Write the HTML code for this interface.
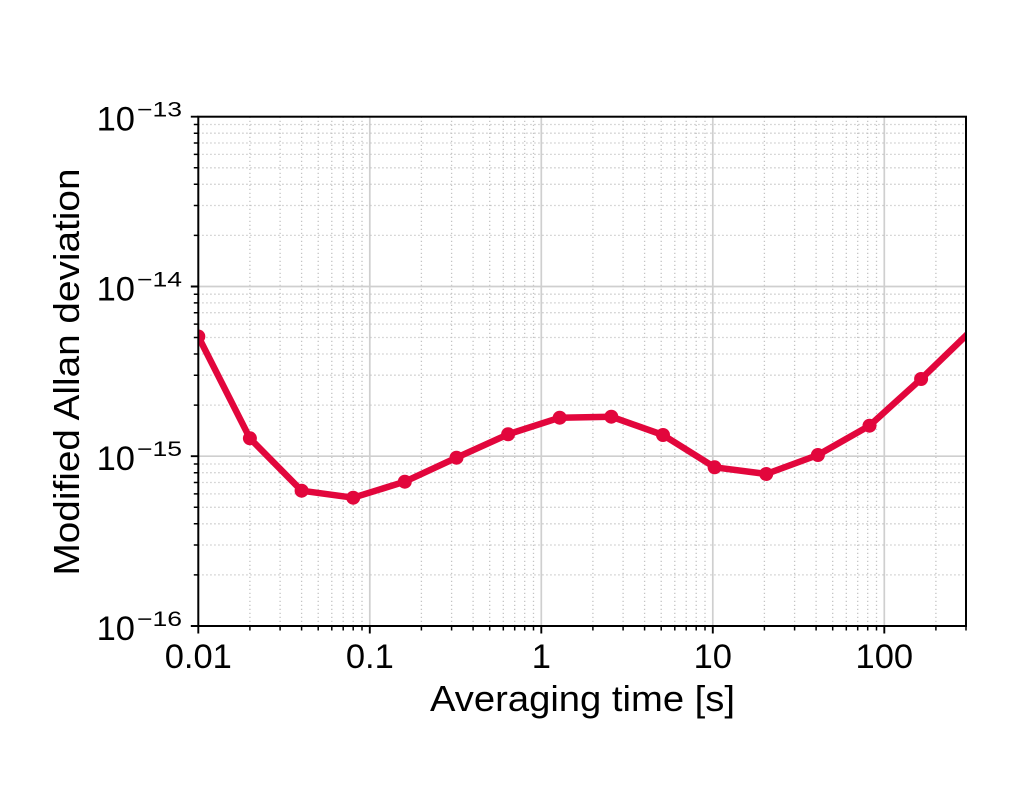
<!DOCTYPE html>
<html>
<head>
<meta charset="utf-8">
<style>
  html, body { margin: 0; padding: 0; background: #ffffff; }
  body { width: 1024px; height: 790px; overflow: hidden; }
  svg { display: block; }
  text { font-family: "Liberation Sans", "DejaVu Sans", sans-serif; fill: #000; }
</style>
</head>
<body>
<svg width="1024" height="790" viewBox="0 0 1024 790" xmlns="http://www.w3.org/2000/svg">
  <rect x="0" y="0" width="1024" height="790" fill="#ffffff"/>
  <defs>
    <clipPath id="plot">
      <rect x="198.3" y="116.7" width="767.7" height="509.3"/>
    </clipPath>
  </defs>

  <!-- minor grid (dotted) -->
  <g stroke="#c4c4c4" stroke-width="1.3" stroke-dasharray="1.3 2.7" fill="none">
    <path d="
      M249.9,116.7V626 M280.1,116.7V626 M301.6,116.7V626 M318.2,116.7V626 M331.8,116.7V626 M343.2,116.7V626 M353.2,116.7V626 M362.0,116.7V626
      M421.4,116.7V626 M451.6,116.7V626 M473.1,116.7V626 M489.7,116.7V626 M503.3,116.7V626 M514.7,116.7V626 M524.7,116.7V626 M533.5,116.7V626
      M592.9,116.7V626 M623.1,116.7V626 M644.6,116.7V626 M661.2,116.7V626 M674.8,116.7V626 M686.2,116.7V626 M696.2,116.7V626 M705.0,116.7V626
      M764.4,116.7V626 M794.6,116.7V626 M816.1,116.7V626 M832.7,116.7V626 M846.3,116.7V626 M857.7,116.7V626 M867.7,116.7V626 M876.5,116.7V626
      M935.9,116.7V626
      M198.3,574.9H966 M198.3,545.0H966 M198.3,523.8H966 M198.3,507.3H966 M198.3,493.9H966 M198.3,482.5H966 M198.3,472.7H966 M198.3,464.0H966
      M198.3,405.1H966 M198.3,375.2H966 M198.3,354.0H966 M198.3,337.5H966 M198.3,324.1H966 M198.3,312.7H966 M198.3,302.9H966 M198.3,294.2H966
      M198.3,235.4H966 M198.3,205.5H966 M198.3,184.3H966 M198.3,167.8H966 M198.3,154.4H966 M198.3,143.0H966 M198.3,133.2H966 M198.3,124.5H966
    "/>
  </g>

  <!-- major grid -->
  <g stroke="#cfcfcf" stroke-width="1.7" fill="none">
    <path d="M369.8,116.7V626 M541.3,116.7V626 M712.8,116.7V626 M884.3,116.7V626 M198.3,286.5H966 M198.3,456.2H966"/>
  </g>

  <!-- data -->
  <g clip-path="url(#plot)">
    <polyline fill="none" stroke="#e2063c" stroke-width="6.5" stroke-linejoin="round" stroke-linecap="round"
      points="198.3,336.5 249.9,438.3 301.6,490.7 353.2,497.7 404.8,481.7 456.5,457.7 508.1,434.3 559.7,417.7 611.3,416.7 663.0,435 714.6,467.3 766.2,474 817.9,455 869.5,425.7 921.1,379 972.8,329"/>
    <g fill="#e2063c">
      <circle cx="198.3" cy="336.5" r="7"/>
      <circle cx="249.9" cy="438.3" r="7"/>
      <circle cx="301.6" cy="490.7" r="7"/>
      <circle cx="353.2" cy="497.7" r="7"/>
      <circle cx="404.8" cy="481.7" r="7"/>
      <circle cx="456.5" cy="457.7" r="7"/>
      <circle cx="508.1" cy="434.3" r="7"/>
      <circle cx="559.7" cy="417.7" r="7"/>
      <circle cx="611.3" cy="416.7" r="7"/>
      <circle cx="663.0" cy="435" r="7"/>
      <circle cx="714.6" cy="467.3" r="7"/>
      <circle cx="766.2" cy="474" r="7"/>
      <circle cx="817.9" cy="455" r="7"/>
      <circle cx="869.5" cy="425.7" r="7"/>
      <circle cx="921.1" cy="379" r="7"/>
    </g>
  </g>

  <!-- ticks -->
  <g stroke="#000" stroke-width="1.9" fill="none">
    <path d="M198.3,626V633.5 M369.8,626V633.5 M541.3,626V633.5 M712.8,626V633.5 M884.3,626V633.5"/>
    <path stroke-width="1.5" d="
      M249.9,626V630.5 M280.1,626V630.5 M301.6,626V630.5 M318.2,626V630.5 M331.8,626V630.5 M343.2,626V630.5 M353.2,626V630.5 M362.0,626V630.5
      M421.4,626V630.5 M451.6,626V630.5 M473.1,626V630.5 M489.7,626V630.5 M503.3,626V630.5 M514.7,626V630.5 M524.7,626V630.5 M533.5,626V630.5
      M592.9,626V630.5 M623.1,626V630.5 M644.6,626V630.5 M661.2,626V630.5 M674.8,626V630.5 M686.2,626V630.5 M696.2,626V630.5 M705.0,626V630.5
      M764.4,626V630.5 M794.6,626V630.5 M816.1,626V630.5 M832.7,626V630.5 M846.3,626V630.5 M857.7,626V630.5 M867.7,626V630.5 M876.5,626V630.5
      M935.9,626V630.5 M966,626V630.5"/>
    <path d="M198.3,116.7H190.8 M198.3,286.5H190.8 M198.3,456.2H190.8 M198.3,626H190.8"/>
    <path stroke-width="1.5" d="
      M198.3,574.9H193.8 M198.3,545.0H193.8 M198.3,523.8H193.8 M198.3,507.3H193.8 M198.3,493.9H193.8 M198.3,482.5H193.8 M198.3,472.7H193.8 M198.3,464.0H193.8
      M198.3,405.1H193.8 M198.3,375.2H193.8 M198.3,354.0H193.8 M198.3,337.5H193.8 M198.3,324.1H193.8 M198.3,312.7H193.8 M198.3,302.9H193.8 M198.3,294.2H193.8
      M198.3,235.4H193.8 M198.3,205.5H193.8 M198.3,184.3H193.8 M198.3,167.8H193.8 M198.3,154.4H193.8 M198.3,143.0H193.8 M198.3,133.2H193.8 M198.3,124.5H193.8"/>
  </g>

  <!-- spines -->
  <rect x="198.3" y="116.7" width="767.7" height="509.3" fill="none" stroke="#000" stroke-width="2"/>

  <!-- x tick labels -->
  <g font-size="34.5" text-anchor="middle">
    <text x="198.3" y="668">0.01</text>
    <text x="369.8" y="668">0.1</text>
    <text x="541.3" y="668">1</text>
    <text x="712.8" y="668">10</text>
    <text x="884.3" y="668">100</text>
  </g>

  <!-- y tick labels -->
  <g font-size="34.5">
    <text x="135" y="130.5" text-anchor="end">10</text>
    <text x="137" y="116.5" font-size="21" textLength="45" lengthAdjust="spacingAndGlyphs">−13</text>
    <text x="135" y="300.3" text-anchor="end">10</text>
    <text x="137" y="286.3" font-size="21" textLength="45" lengthAdjust="spacingAndGlyphs">−14</text>
    <text x="135" y="470" text-anchor="end">10</text>
    <text x="137" y="456" font-size="21" textLength="45" lengthAdjust="spacingAndGlyphs">−15</text>
    <text x="135" y="639.8" text-anchor="end">10</text>
    <text x="137" y="625.8" font-size="21" textLength="45" lengthAdjust="spacingAndGlyphs">−16</text>
  </g>

  <!-- axis labels -->
  <text x="430" y="711" font-size="36" textLength="305" lengthAdjust="spacingAndGlyphs">Averaging time [s]</text>
  <text transform="translate(79,372) rotate(-90)" x="0" y="0" font-size="36" text-anchor="middle" textLength="407" lengthAdjust="spacingAndGlyphs">Modified Allan deviation</text>
</svg>
</body>
</html>
